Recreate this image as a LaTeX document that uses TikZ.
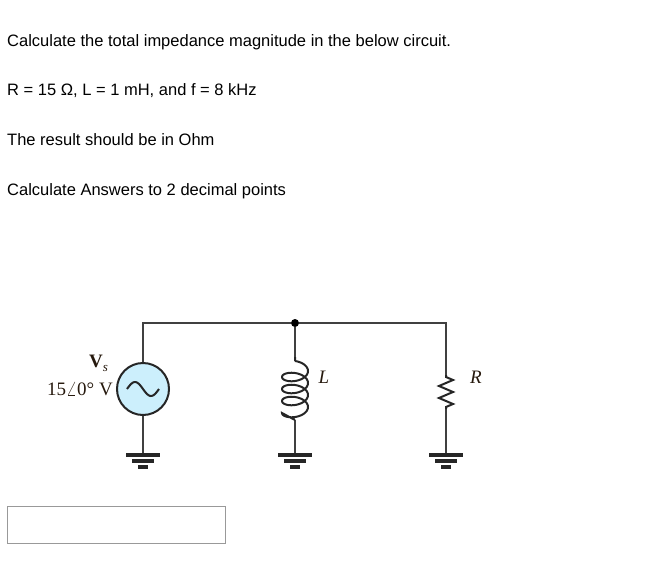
\documentclass[tikz,border=0pt]{standalone}
\usepackage{fontspec}
\setmainfont{Liberation Sans}
\newfontfamily\seriffont{Liberation Serif}
\usetikzlibrary{positioning}

\begin{document}
\begin{tikzpicture}[x=1pt,y=-1pt,
  question/.style={anchor=base west, inner sep=0pt, font=\fontsize{16.5}{19}\selectfont},
  wire/.style={draw=black!75, line width=1.3pt},
  part/.style={line width=2pt, draw=black!85},
  dot/.style={circle, fill=black, inner sep=0pt, minimum size=8pt},
  source/.style={circle, draw=black!85, line width=2pt, fill=cyan!20, minimum size=52pt, inner sep=0pt},
  label/.style={font=\seriffont\fontsize{19}{21}\selectfont, text=black!80!brown, inner sep=1pt},
  gbar/.style={line width=3.5pt, draw=black!85}
]
  \useasboundingbox (0,0) rectangle (647,578);

  % question text
  \node[question] (q1) at (7,46) {Calculate the total impedance magnitude in the below circuit.};
  \node[question] (q2) at (7,95) {R = 15 Ω, L = 1 mH, and f = 8 kHz};
  \node[question] (q3) at (7,145) {The result should be in Ohm};
  \node[question] (q4) at (7,195) {Calculate Answers to 2 decimal points};

  % circuit
  \coordinate (tl) at (143,323);
  \node[dot] (top) at (295,323) {};
  \coordinate (tr) at (446,323);
  \node[source] (vs) at (143,389) {};
  \draw[part] plot[domain=-16:16, samples=40, smooth] ({143+\x}, {389+7*sin(\x/16*180)});
  \coordinate (l1) at (295,357);
  \coordinate (l2) at (295,420);
  \coordinate (r1) at (446,375);
  \coordinate (r2) at (446,409);
  \coordinate (g1) at (143,455);
  \coordinate (g2) at (295,455);
  \coordinate (g3) at (446,455);

  \draw[wire] (vs.north) -- (tl) -- (top) -- (tr) -- (r1);
  \draw[wire] (top) -- (l1);
  \draw[wire] (vs.south) -- (g1);
  \draw[wire] (l2) -- (g2);
  \draw[wire] (r2) -- (g3);
  \draw[part] (l1) -- ++(0,4)
    plot[domain=0:1350, samples=240, smooth] ({295+13*sin(\x)}, {361+\x/1350*45+7*(1-cos(\x))})
    -- (l2);
  \draw[part] (r1) -- ++(0,2) -- ++(7,3) -- ++(-14,6) -- ++(14,6) -- ++(-14,6) -- ++(14,6) -- ++(-7,3) -- (r2);

  % grounds
  \foreach \g in {g1,g2,g3} {
    \draw[gbar] ([xshift=-17pt]\g) -- ([xshift=17pt]\g);
    \draw[gbar] ([xshift=-11pt,yshift=-6pt]\g) -- ([xshift=11pt,yshift=-6pt]\g);
    \draw[gbar] ([xshift=-5pt,yshift=-12pt]\g) -- ([xshift=5pt,yshift=-12pt]\g);
  }

  % labels
  \node[label, anchor=south west] (vname) at (88,373) {\textbf{V}\raisebox{-4pt}{\itshape\fontsize{13}{14}\selectfont s}};
  \node[label, anchor=east] (vval) at (114,389) {15$\angle$0° V};
  \node[label, font=\seriffont\itshape\fontsize{19}{21}\selectfont] (lname) at (324,377) {L};
  \node[label, font=\seriffont\itshape\fontsize{19}{21}\selectfont] (rname) at (476,377) {R};

  % answer box
  \node[draw=black!40, line width=0.8pt, minimum width=218pt, minimum height=37pt, anchor=north west, inner sep=0pt] (answer) at (7,506) {};
\end{tikzpicture}
\end{document}
